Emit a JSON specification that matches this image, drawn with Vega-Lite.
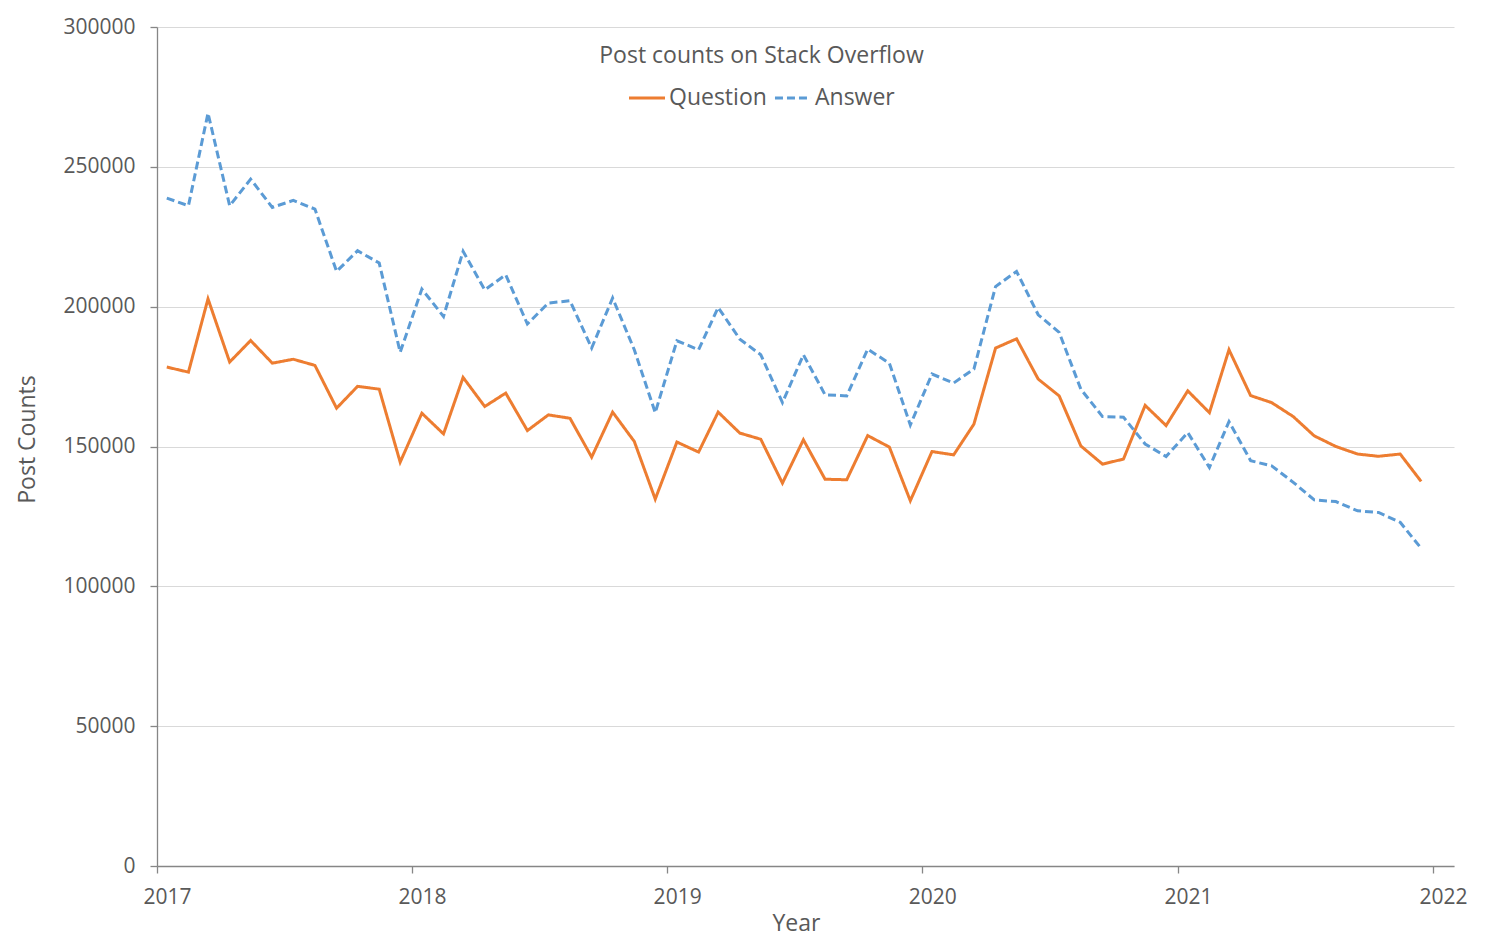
{
  "$schema": "https://vega.github.io/schema/vega-lite/v6.json",
  "width": 1297,
  "height": 839,
  "autosize": {"type": "none"},
  "padding": {"left": 157, "top": 27, "right": 43, "bottom": 78},
  "background": "white",
  "config": {
    "font": "Open Sans",
    "view": {"stroke": null},
    "axis": {"labelColor": "#595959", "titleColor": "#595959", "labelFontSize": 21, "titleFontSize": 23, "titleFontWeight": "normal", "domainColor": "#868686", "tickColor": "#868686", "tickSize": 7, "gridColor": "#d9d9d9", "gridWidth": 1, "domainWidth": 1.3, "tickWidth": 1.3}
  },
  "title": {"text": "Post counts on Stack Overflow", "anchor": "middle", "frame": "group", "fontSize": 23, "fontWeight": "normal", "color": "#595959", "dx": -44, "offset": -63, "baseline": "middle"},
  "data": {"values": [
    {"date": "2017-01-15", "type": "Question", "count": 178400}, {"date": "2017-01-15", "type": "Answer", "count": 238800},
    {"date": "2017-02-15", "type": "Question", "count": 176600}, {"date": "2017-02-15", "type": "Answer", "count": 236100},
    {"date": "2017-03-15", "type": "Question", "count": 202800}, {"date": "2017-03-15", "type": "Answer", "count": 269200},
    {"date": "2017-04-15", "type": "Question", "count": 180200}, {"date": "2017-04-15", "type": "Answer", "count": 236100},
    {"date": "2017-05-15", "type": "Question", "count": 187900}, {"date": "2017-05-15", "type": "Answer", "count": 245600},
    {"date": "2017-06-15", "type": "Question", "count": 179800}, {"date": "2017-06-15", "type": "Answer", "count": 235500},
    {"date": "2017-07-15", "type": "Question", "count": 181200}, {"date": "2017-07-15", "type": "Answer", "count": 238000},
    {"date": "2017-08-15", "type": "Question", "count": 179000}, {"date": "2017-08-15", "type": "Answer", "count": 234900},
    {"date": "2017-09-15", "type": "Question", "count": 163700}, {"date": "2017-09-15", "type": "Answer", "count": 212600},
    {"date": "2017-10-15", "type": "Question", "count": 171500}, {"date": "2017-10-15", "type": "Answer", "count": 220000},
    {"date": "2017-11-15", "type": "Question", "count": 170500}, {"date": "2017-11-15", "type": "Answer", "count": 215600},
    {"date": "2017-12-15", "type": "Question", "count": 144400}, {"date": "2017-12-15", "type": "Answer", "count": 183700},
    {"date": "2018-01-15", "type": "Question", "count": 161900}, {"date": "2018-01-15", "type": "Answer", "count": 206300},
    {"date": "2018-02-15", "type": "Question", "count": 154500}, {"date": "2018-02-15", "type": "Answer", "count": 196500},
    {"date": "2018-03-15", "type": "Question", "count": 174700}, {"date": "2018-03-15", "type": "Answer", "count": 219800},
    {"date": "2018-04-15", "type": "Question", "count": 164300}, {"date": "2018-04-15", "type": "Answer", "count": 206000},
    {"date": "2018-05-15", "type": "Question", "count": 169100}, {"date": "2018-05-15", "type": "Answer", "count": 211400},
    {"date": "2018-06-15", "type": "Question", "count": 155700}, {"date": "2018-06-15", "type": "Answer", "count": 193800},
    {"date": "2018-07-15", "type": "Question", "count": 161300}, {"date": "2018-07-15", "type": "Answer", "count": 201300},
    {"date": "2018-08-15", "type": "Question", "count": 160100}, {"date": "2018-08-15", "type": "Answer", "count": 202100},
    {"date": "2018-09-15", "type": "Question", "count": 146200}, {"date": "2018-09-15", "type": "Answer", "count": 185200},
    {"date": "2018-10-15", "type": "Question", "count": 162300}, {"date": "2018-10-15", "type": "Answer", "count": 203100},
    {"date": "2018-11-15", "type": "Question", "count": 151800}, {"date": "2018-11-15", "type": "Answer", "count": 184600},
    {"date": "2018-12-15", "type": "Question", "count": 131200}, {"date": "2018-12-15", "type": "Answer", "count": 162100},
    {"date": "2019-01-15", "type": "Question", "count": 151600}, {"date": "2019-01-15", "type": "Answer", "count": 187800},
    {"date": "2019-02-15", "type": "Question", "count": 148000}, {"date": "2019-02-15", "type": "Answer", "count": 184600},
    {"date": "2019-03-15", "type": "Question", "count": 162300}, {"date": "2019-03-15", "type": "Answer", "count": 199700},
    {"date": "2019-04-15", "type": "Question", "count": 154800}, {"date": "2019-04-15", "type": "Answer", "count": 188400},
    {"date": "2019-05-15", "type": "Question", "count": 152600}, {"date": "2019-05-15", "type": "Answer", "count": 182800},
    {"date": "2019-06-15", "type": "Question", "count": 136900}, {"date": "2019-06-15", "type": "Answer", "count": 165700},
    {"date": "2019-07-15", "type": "Question", "count": 152400}, {"date": "2019-07-15", "type": "Answer", "count": 182800},
    {"date": "2019-08-15", "type": "Question", "count": 138300}, {"date": "2019-08-15", "type": "Answer", "count": 168500},
    {"date": "2019-09-15", "type": "Question", "count": 138100}, {"date": "2019-09-15", "type": "Answer", "count": 168100},
    {"date": "2019-10-15", "type": "Question", "count": 153900}, {"date": "2019-10-15", "type": "Answer", "count": 184800},
    {"date": "2019-11-15", "type": "Question", "count": 149800}, {"date": "2019-11-15", "type": "Answer", "count": 179800},
    {"date": "2019-12-15", "type": "Question", "count": 130600}, {"date": "2019-12-15", "type": "Answer", "count": 157700},
    {"date": "2020-01-15", "type": "Question", "count": 148200}, {"date": "2020-01-15", "type": "Answer", "count": 175900},
    {"date": "2020-02-15", "type": "Question", "count": 147000}, {"date": "2020-02-15", "type": "Answer", "count": 172700},
    {"date": "2020-03-15", "type": "Question", "count": 158000}, {"date": "2020-03-15", "type": "Answer", "count": 177700},
    {"date": "2020-04-15", "type": "Question", "count": 185200}, {"date": "2020-04-15", "type": "Answer", "count": 207200},
    {"date": "2020-05-15", "type": "Question", "count": 188500}, {"date": "2020-05-15", "type": "Answer", "count": 212600},
    {"date": "2020-06-15", "type": "Question", "count": 174100}, {"date": "2020-06-15", "type": "Answer", "count": 197100},
    {"date": "2020-07-15", "type": "Question", "count": 168100}, {"date": "2020-07-15", "type": "Answer", "count": 190800},
    {"date": "2020-08-15", "type": "Question", "count": 150200}, {"date": "2020-08-15", "type": "Answer", "count": 170500},
    {"date": "2020-09-15", "type": "Question", "count": 143700}, {"date": "2020-09-15", "type": "Answer", "count": 160700},
    {"date": "2020-10-15", "type": "Question", "count": 145500}, {"date": "2020-10-15", "type": "Answer", "count": 160500},
    {"date": "2020-11-15", "type": "Question", "count": 164700}, {"date": "2020-11-15", "type": "Answer", "count": 150900},
    {"date": "2020-12-15", "type": "Question", "count": 157500}, {"date": "2020-12-15", "type": "Answer", "count": 146400},
    {"date": "2021-01-15", "type": "Question", "count": 169900}, {"date": "2021-01-15", "type": "Answer", "count": 155000},
    {"date": "2021-02-15", "type": "Question", "count": 162100}, {"date": "2021-02-15", "type": "Answer", "count": 142500},
    {"date": "2021-03-15", "type": "Question", "count": 184600}, {"date": "2021-03-15", "type": "Answer", "count": 158900},
    {"date": "2021-04-15", "type": "Question", "count": 168200}, {"date": "2021-04-15", "type": "Answer", "count": 144900},
    {"date": "2021-05-15", "type": "Question", "count": 165700}, {"date": "2021-05-15", "type": "Answer", "count": 143100},
    {"date": "2021-06-15", "type": "Question", "count": 160700}, {"date": "2021-06-15", "type": "Answer", "count": 137200},
    {"date": "2021-07-15", "type": "Question", "count": 153800}, {"date": "2021-07-15", "type": "Answer", "count": 130900},
    {"date": "2021-08-15", "type": "Question", "count": 150000}, {"date": "2021-08-15", "type": "Answer", "count": 130300},
    {"date": "2021-09-15", "type": "Question", "count": 147300}, {"date": "2021-09-15", "type": "Answer", "count": 127000},
    {"date": "2021-10-15", "type": "Question", "count": 146500}, {"date": "2021-10-15", "type": "Answer", "count": 126400},
    {"date": "2021-11-15", "type": "Question", "count": 147300}, {"date": "2021-11-15", "type": "Answer", "count": 122900},
    {"date": "2021-12-15", "type": "Question", "count": 137500}, {"date": "2021-12-15", "type": "Answer", "count": 113600}
  ]},
  "mark": {"type": "line", "strokeWidth": 3, "strokeJoin": "miter"},
  "encoding": {
    "x": {"field": "date", "type": "temporal", "title": "Year",
      "scale": {"type": "utc", "domain": [{"year": 2017, "month": 1, "date": 1, "utc": true}, {"year": 2022, "month": 1, "date": 31, "utc": true}]},
      "axis": {"grid": false, "format": "%Y", "values": [{"year": 2017, "month": 1, "date": 1, "utc": true}, {"year": 2018, "month": 1, "date": 1, "utc": true}, {"year": 2019, "month": 1, "date": 1, "utc": true}, {"year": 2020, "month": 1, "date": 1, "utc": true}, {"year": 2021, "month": 1, "date": 1, "utc": true}, {"year": 2022, "month": 1, "date": 1, "utc": true}],
        "labelOffset": 10, "labelPadding": 13, "labelFlush": false, "labelOverlap": false, "titleX": 639, "titleY": 57, "titleBaseline": "middle", "titleAnchor": null}},
    "y": {"field": "count", "type": "quantitative", "title": "Post Counts",
      "scale": {"domain": [0, 300000], "nice": false},
      "axis": {"values": [0, 50000, 100000, 150000, 200000, 250000, 300000], "format": "d", "labelPadding": 15, "titleAngle": -90, "titleX": -130, "titleY": 412, "titleAlign": "center", "titleBaseline": "middle", "domain": true}},
    "color": {"field": "type", "type": "nominal", "title": null,
      "scale": {"domain": ["Question", "Answer"], "range": ["#ED7D31", "#5B9BD5"]},
      "legend": {"orient": "none", "legendX": 470, "legendY": 51, "direction": "horizontal", "symbolType": "stroke", "symbolStrokeWidth": 3, "symbolSize": 1300, "labelFontSize": 23, "labelColor": "#595959", "labelOffset": 2, "columnPadding": 1, "labelFont": "Open Sans"}},
    "strokeDash": {"field": "type", "type": "nominal", "title": null,
      "scale": {"domain": ["Question", "Answer"], "range": [[1, 0], [8, 4]]}}
  }
}
